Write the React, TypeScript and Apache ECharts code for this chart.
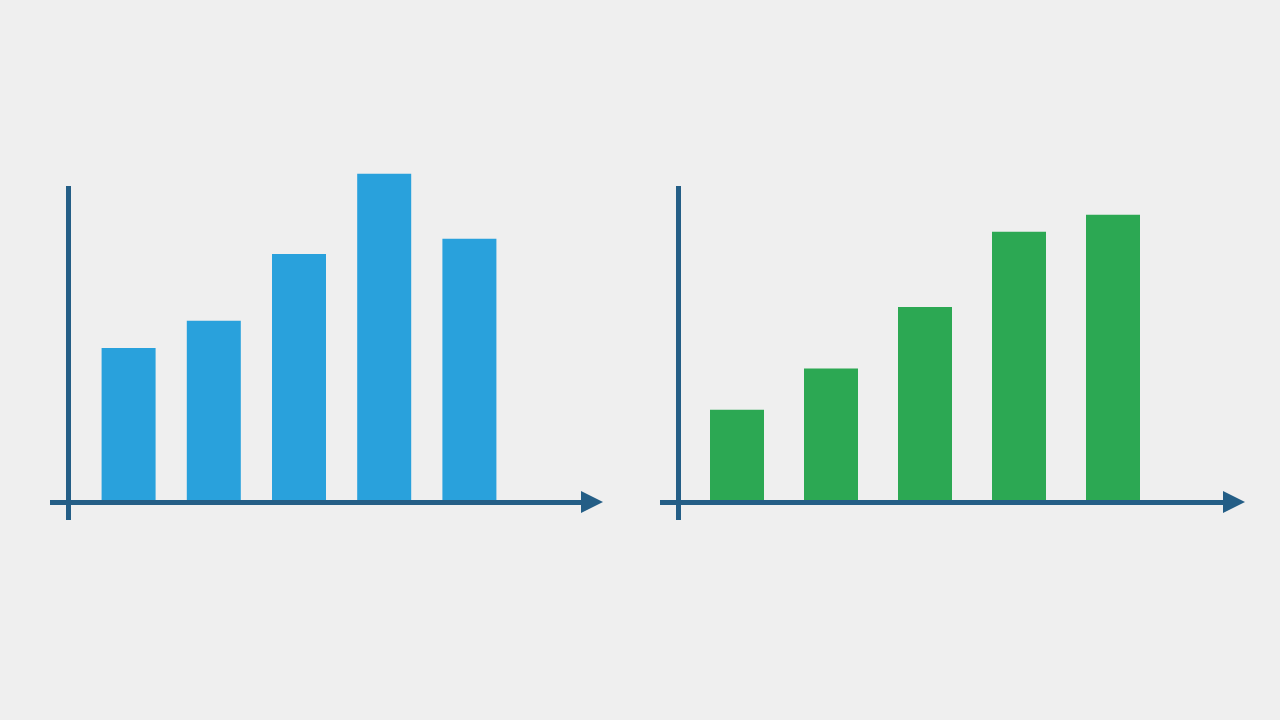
import { useEffect, useRef } from "react";
import * as echarts from "echarts";

const categories = ["A", "B", "C", "D", "E"];
const blueValues = [45, 53, 72.5, 96, 77];
const greenValues = [27, 39, 57, 79, 84];
const yMax = 100;

const axisColor = "#245e86";
const blueColor = "#29a1dc";
const greenColor = "#2ca853";
const triangle = "path://M5,0 L10,10 L0,10 Z";

export default function App(): JSX.Element {
  const chartRef = useRef<HTMLDivElement>(null);

  useEffect(() => {
    document.body.style.margin = "0";
    const myChart = echarts.init(chartRef.current, null, { renderer: "svg" });

    const hidden = {
      show: false,
      min: 0,
      max: 1,
      type: "value" as const,
    };
    const visibleLine = {
      show: true,
      onZero: false,
      lineStyle: { color: axisColor, width: 5, cap: "butt" },
    };

    const option = {
      animation: false,
      backgroundColor: "#efefef",
      grid: [
        // bar areas
        { left: 86, width: 426, top: 160, bottom: 218 },
        { left: 690, width: 470, top: 160, bottom: 218 },
        // horizontal axis lines (arrow is centred on the line end)
        { left: 50, width: 542, top: 160, bottom: 218 },
        { left: 660, width: 574, top: 160, bottom: 218 },
        // vertical axis lines
        { left: 68, width: 10, top: 186, bottom: 200 },
        { left: 678, width: 10, top: 186, bottom: 200 },
      ],
      xAxis: [
        {
          type: "category",
          gridIndex: 0,
          data: categories,
          boundaryGap: true,
          axisLine: { show: false },
          axisTick: { show: false },
          axisLabel: { show: false },
        },
        {
          type: "category",
          gridIndex: 1,
          data: categories,
          boundaryGap: true,
          axisLine: { show: false },
          axisTick: { show: false },
          axisLabel: { show: false },
        },
        {
          type: "value",
          gridIndex: 2,
          min: 0,
          max: 1,
          z: 5,
          axisLine: { ...visibleLine, symbol: ["none", triangle], symbolSize: [22, 23] },
          axisTick: { show: false },
          axisLabel: { show: false },
          splitLine: { show: false },
        },
        {
          type: "value",
          gridIndex: 3,
          min: 0,
          max: 1,
          z: 5,
          axisLine: { ...visibleLine, symbol: ["none", triangle], symbolSize: [22, 23] },
          axisTick: { show: false },
          axisLabel: { show: false },
          splitLine: { show: false },
        },
        { ...hidden, gridIndex: 4 },
        { ...hidden, gridIndex: 5 },
      ],
      yAxis: [
        { type: "value", gridIndex: 0, min: 0, max: yMax, show: false },
        { type: "value", gridIndex: 1, min: 0, max: yMax, show: false },
        { ...hidden, gridIndex: 2 },
        { ...hidden, gridIndex: 3 },
        {
          type: "value",
          gridIndex: 4,
          min: 0,
          max: 1,
          z: 5,
          position: "left",
          axisLine: visibleLine,
          axisTick: { show: false },
          axisLabel: { show: false },
          splitLine: { show: false },
        },
        {
          type: "value",
          gridIndex: 5,
          min: 0,
          max: 1,
          z: 5,
          position: "left",
          axisLine: visibleLine,
          axisTick: { show: false },
          axisLabel: { show: false },
          splitLine: { show: false },
        },
      ],
      series: [
        {
          type: "bar",
          xAxisIndex: 0,
          yAxisIndex: 0,
          data: blueValues,
          barWidth: 54,
          itemStyle: { color: blueColor },
        },
        {
          type: "bar",
          xAxisIndex: 1,
          yAxisIndex: 1,
          data: greenValues,
          barWidth: 54,
          itemStyle: { color: greenColor },
        },
      ],
    };

    myChart.setOption(option);
    return () => {
      myChart.dispose();
    };
  }, []);

  return (
    <div
      ref={chartRef}
      style={{ position: "fixed", top: 0, left: 0, width: 1280, height: 720 }}
    ></div>
  );
}
